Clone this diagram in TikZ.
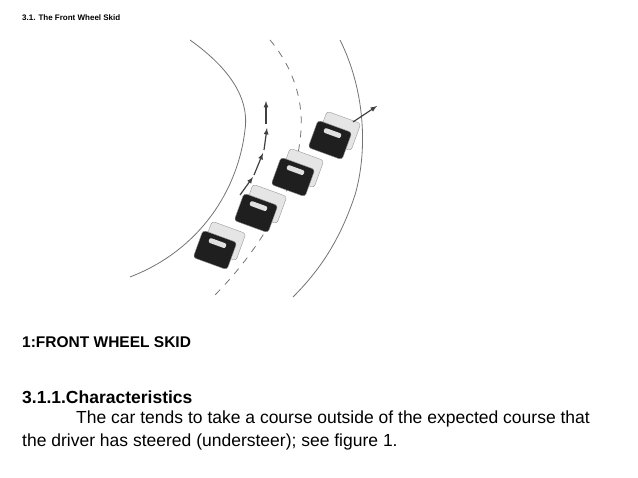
\documentclass[tikz,border=0pt]{standalone}
\usepackage{fontspec}
\setmainfont{Liberation Sans}
\usetikzlibrary{calc}
\begin{document}
\begin{tikzpicture}[x=1pt,y=-1pt,
  road/.style={draw=black!55,line width=0.8pt},
  dark/.style={fill=black!88,draw=black!40,rounded corners=3pt,minimum width=36pt,minimum height=29pt,inner sep=0pt},
  pale/.style={fill=black!10,draw=black!40,rounded corners=3pt,minimum width=36pt,minimum height=29pt,inner sep=0pt},
  win/.style={fill=black!12,rounded corners=2pt,minimum width=18pt,minimum height=5pt,inner sep=0pt},
  arr/.style={-latex,draw=black!75,line width=1.2pt},
  txt/.style={anchor=base west,inner sep=0pt}]
\useasboundingbox (0,0) rectangle (638,478);
\draw[road] (190,40) .. controls (225,65) and (250,95) .. (245,130) .. controls (238,190) and (200,250) .. (130,277);
\draw[road,dashed,dash pattern=on 7pt off 7pt] (270,40) .. controls (295,70) and (305,105) .. (300,140) .. controls (295,190) and (260,250) .. (213,297);
\draw[road] (340,40) .. controls (365,90) and (368,150) .. (355,195) .. controls (340,240) and (320,270) .. (293,297);
\foreach \i/\x/\y in {c1/215/250,c2/256/213,c3/293/177,c4/330/140}{
  \node[pale,rotate=-20] (\i p) at (\x+9,\y-9) {};
  \node[dark,rotate=-20] (\i) at (\x,\y) {};
  \node[win,rotate=-20] (\i w) at ($(\i.center)!0.5!(\i.north)$) {};
}
\coordinate (a0) at (240,195); \coordinate (a1) at (253,177);
\coordinate (b0) at (254,175); \coordinate (b1) at (263,153);
\coordinate (d0) at (264,150); \coordinate (d1) at (267,128);
\coordinate (e0) at (266,124); \coordinate (e1) at (266,101);
\coordinate (f0) at (353,122); \coordinate (f1) at (377,106);
\draw[arr] (a0)--(a1); \draw[arr] (b0)--(b1); \draw[arr] (d0)--(d1); \draw[arr] (e0)--(e1);
\draw[arr] (f0)--(f1);
\node[txt,font=\bfseries\fontsize{8}{9}\selectfont] (t0) at (22,21) {3.1. The Front Wheel Skid};
\node[txt,font=\bfseries\fontsize{15.5}{17}\selectfont] (t1) at (22,348) {1:FRONT WHEEL SKID};
\node[txt,font=\bfseries\fontsize{17.5}{19}\selectfont] (t2) at (22,404) {3.1.1.Characteristics};
\node[txt,font=\fontsize{17.5}{19}\selectfont] (t3) at (76,424) {The car tends to take a course outside of the expected course that};
\node[txt,font=\fontsize{17.5}{19}\selectfont] (t4) at (22,447) {the driver has steered (understeer); see figure 1.};
\end{tikzpicture}
\end{document}
